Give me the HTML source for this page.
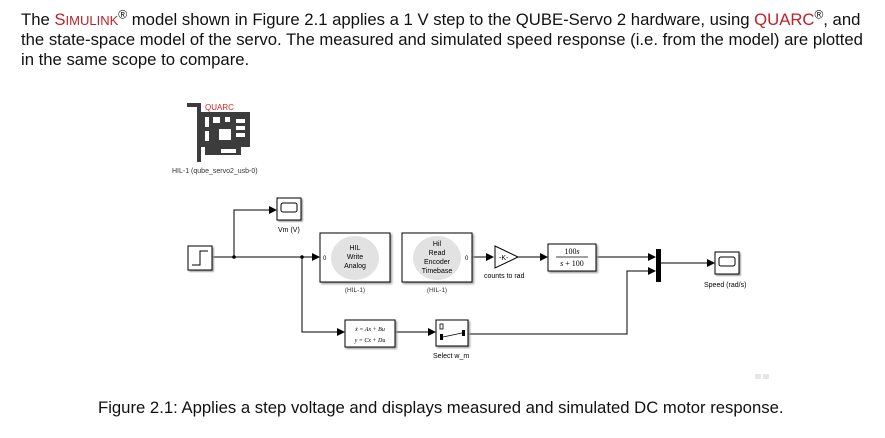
<!DOCTYPE html>
<html><head><meta charset="utf-8"><style>
body{margin:0;background:#fff;width:885px;height:438px;overflow:hidden;position:relative;font-family:"Liberation Sans",sans-serif}
.p{position:absolute;left:21px;font-size:16.7px;color:#111;line-height:20px;white-space:nowrap}
.r{color:#c0202a}
</style></head><body>
<div class="p" style="top:10px">The <span class="r">S<span style="font-size:13px">IMULINK</span></span><sup style="font-size:12px;line-height:0">®</sup> model shown in Figure 2.1 applies a 1 V step to the QUBE-Servo 2 hardware, using <span class="r">QUARC</span><sup style="font-size:12px;line-height:0">®</sup>, and</div>
<div class="p" style="top:30px">the state-space model of the servo. The measured and simulated speed response (i.e. from the model) are plotted</div>
<div class="p" style="top:50px">in the same scope to compare.</div>
<div class="p" style="top:398px;left:98px">Figure 2.1: Applies a step voltage and displays measured and simulated DC motor response.</div>
<svg width="885" height="438" style="position:absolute;left:0;top:0" font-family="Liberation Sans, sans-serif">
<defs><marker id="a" markerWidth="8" markerHeight="8" refX="7" refY="4" orient="auto" markerUnits="userSpaceOnUse"><path d="M0,0 L8,4 L0,8z" fill="#000"/></marker>
<filter id="s"><feDropShadow dx="1.5" dy="1.5" stdDeviation="1" flood-color="#999"/></filter></defs>
<g fill="#3c3c3c">
<rect x="187" y="103" width="14" height="4"/><rect x="197" y="103" width="4" height="59"/>
<rect x="201" y="112" width="49" height="35"/><rect x="205" y="147" width="36" height="8"/>
</g>
<g fill="#fff"><rect x="205" y="117" width="4" height="10"/><rect x="213" y="117" width="7" height="6"/><rect x="225" y="117" width="5" height="5"/><rect x="236" y="119" width="9" height="4"/><rect x="236" y="126" width="9" height="4"/><rect x="236" y="133" width="9" height="4"/><rect x="219" y="129" width="12" height="11"/><rect x="205" y="131" width="4" height="10"/><rect x="221" y="149" width="15" height="4"/></g>
<text x="205" y="110" font-size="8" fill="#e02020">QUARC</text>
<text x="172" y="173" font-size="7" fill="#333">HIL-1 (qube_servo2_usb-0)</text>
<g stroke="#000" stroke-width="1" fill="none">
<path d="M212 257 H319" marker-end="url(#a)"/>
<path d="M234 257 V210 H276" marker-end="url(#a)"/>
<path d="M302 257 V332 H344" marker-end="url(#a)"/>
<path d="M395 332 H435" marker-end="url(#a)"/>
<path d="M472 257 H493" marker-end="url(#a)"/>
<path d="M518 257 H547" marker-end="url(#a)"/>
<path d="M596 257 H655" marker-end="url(#a)"/>
<path d="M468 334 H627 V271 H655" marker-end="url(#a)"/>
<path d="M661 263 H714" marker-end="url(#a)"/>
</g>
<circle cx="234" cy="257" r="1.8"/><circle cx="302" cy="257" r="1.8"/>
<rect x="188" y="246" width="24" height="24" fill="#fff" stroke="#000" filter="url(#s)"/>
<path d="M192 265 H200 V251 H208" stroke="#000" fill="none"/>
<rect x="277" y="198" width="24" height="22" fill="#fff" stroke="#000" filter="url(#s)"/>
<rect x="281" y="203" width="16" height="9" rx="2" fill="none" stroke="#000"/>
<text x="278" y="232" font-size="7">Vm (V)</text>
<rect x="715" y="252" width="24" height="22" fill="#fff" stroke="#000" filter="url(#s)"/>
<rect x="719" y="257" width="16" height="9" rx="2" fill="none" stroke="#000"/>
<text x="704" y="287" font-size="7">Speed (rad/s)</text>
<rect x="320" y="233" width="70" height="49" fill="#fff" stroke="#000" filter="url(#s)"/>
<ellipse cx="355" cy="258" rx="24" ry="22" fill="#e2e2e2"/>
<text text-anchor="middle" font-size="7"><tspan x="355" y="250">HIL</tspan><tspan x="355" y="259">Write</tspan><tspan x="355" y="268">Analog</tspan></text>
<text x="323" y="260" font-size="6">0</text>
<text x="355" y="292" font-size="6.5" text-anchor="middle" fill="#333">(HIL-1)</text>
<rect x="402" y="233" width="70" height="49" fill="#fff" stroke="#000" filter="url(#s)"/>
<ellipse cx="437" cy="258" rx="24" ry="22" fill="#e2e2e2"/>
<text text-anchor="middle" font-size="7"><tspan x="437" y="246">Hil</tspan><tspan x="437" y="255">Read</tspan><tspan x="437" y="264">Encoder</tspan><tspan x="437" y="273">Timebase</tspan></text>
<text x="465" y="260" font-size="6">0</text>
<text x="437" y="292" font-size="6.5" text-anchor="middle" fill="#333">(HIL-1)</text>
<path d="M495 246 L518 257 L495 268z" fill="#fff" stroke="#000"/>
<text x="499" y="260" font-size="7">-K-</text>
<text x="484" y="278" font-size="7">counts to rad</text>
<rect x="548" y="244" width="48" height="27" fill="#fff" stroke="#000" filter="url(#s)"/>
<text x="572" y="254" font-size="8" text-anchor="middle" font-family="Liberation Serif, serif">100<tspan font-style="italic">s</tspan></text>
<line x1="556" y1="257" x2="588" y2="257" stroke="#000" stroke-width="0.7"/>
<text x="572" y="266" font-size="8" text-anchor="middle" font-family="Liberation Serif, serif"><tspan font-style="italic">s</tspan> + 100</text>
<rect x="656" y="249" width="5" height="33" fill="#000"/>
<rect x="345" y="320" width="50" height="27" fill="#fff" stroke="#000" filter="url(#s)"/>
<text x="370" y="331" font-size="6" text-anchor="middle" font-style="italic" font-family="Liberation Serif, serif">ẋ = Ax + Bu</text>
<text x="370" y="342" font-size="6" text-anchor="middle" font-style="italic" font-family="Liberation Serif, serif">y = Cx + Du</text>
<rect x="436" y="320" width="32" height="26" fill="#fff" stroke="#000" filter="url(#s)"/>
<rect x="440" y="324" width="3" height="5" fill="none" stroke="#000" stroke-width="0.8"/>
<rect x="440" y="334" width="3" height="6" fill="#000"/>
<rect x="462" y="330" width="3" height="6" fill="#000"/>
<line x1="443" y1="337" x2="462" y2="333" stroke="#000" stroke-width="0.8"/>
<text x="433" y="358" font-size="7">Select w_m</text>
<rect x="755" y="374" width="6" height="5" fill="#e6e6e6"/><rect x="763" y="374" width="6" height="5" fill="#e6e6e6"/>
</svg>
</body></html>
